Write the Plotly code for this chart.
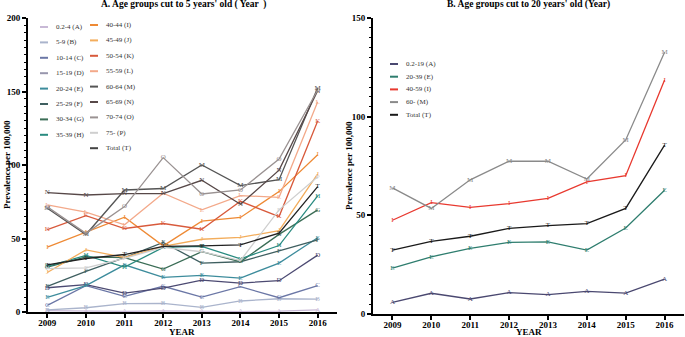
import plotly.graph_objects as go

years = [2009, 2010, 2011, 2012, 2013, 2014, 2015, 2016]

# Panel A: 5-year age groups
labels5 = ["0.2-4 (A)", "5-9 (B)", "10-14 (C)", "15-19 (D)", "20-24 (E)", "25-29 (F)",
           "30-34 (G)", "35-39 (H)", "40-44 (I)", "45-49 (J)", "50-54 (K)", "55-59 (L)",
           "60-64 (M)", "65-69 (N)", "70-74 (O)", "75- (P)", "Total (T)"]
letters5 = ["A", "B", "C", "D", "E", "F", "G", "H", "I", "J", "K", "L", "M", "N", "O", "P", "T"]
A5 = [1.0, 0.6, 0.4, 0.8, 0.5, 0.3, 0.6, 1.5]
B5 = [1.5, 2.9, 5.7, 5.9, 3.2, 7.5, 9.0, 8.8]
C5 = [4.5, 17.9, 10.6, 17.5, 10.2, 17.2, 9.7, 17.9]
D5 = [16.5, 18.6, 12.9, 16.3, 21.7, 19.7, 21.3, 38.7]
E5 = [10.0, 17.9, 32.1, 23.5, 24.9, 23.1, 33.3, 50.5]
F5 = [17.4, 27.6, 37.0, 47.3, 33.3, 34.2, 41.6, 49.1]
G5 = [30.5, 37.5, 37.0, 29.2, 41.0, 34.2, 52.8, 69.5]
H5 = [31.0, 38.5, 30.5, 43.9, 44.6, 36.2, 45.2, 79.0]
I5 = [44.1, 54.1, 64.5, 45.0, 61.8, 64.3, 81.9, 107.0]
J5 = [26.9, 42.3, 37.1, 44.6, 49.5, 50.7, 55.4, 94.0]
K5 = [56.1, 65.6, 56.8, 60.2, 56.3, 75.3, 64.9, 130.0]
L5 = [72.9, 67.9, 59.3, 80.8, 69.5, 79.2, 78.0, 143.0]
M5 = [70.6, 52.7, 83.0, 84.0, 100.0, 86.0, 90.0, 152.5]
N5 = [81.2, 79.6, 80.5, 80.5, 89.6, 73.3, 96.5, 150.5]
O5 = [71.5, 53.5, 71.7, 105.0, 80.3, 83.0, 104.0, 151.0]
P5 = [29.5, 30.0, 36.5, 44.0, 41.0, 35.0, 69.5, 92.0]
T5 = [32.1, 36.4, 39.1, 44.6, 45.0, 45.7, 53.6, 85.3]
series5 = [A5, B5, C5, D5, E5, F5, G5, H5, I5, J5, K5, L5, M5, N5, O5, P5, T5]
colors5 = ["#c8b9d6", "#aab4cc", "#6b77a6", "#4c4a72", "#3d8c9c", "#3f5f60",
           "#3b6d56", "#2a8b80", "#ee8a35", "#f3ad5c", "#d85a3c", "#f3a98a",
           "#555555", "#574848", "#9a9292", "#cfcfcf", "#222222"]
legcolors5 = ["#c8b9d6", "#aab4cc", "#6b77a6", "#9896ad", "#3d8c9c", "#3f5f60",
              "#3b6d56", "#2a8b80", "#ee8a35", "#f3ad5c", "#d85a3c", "#f3a98a",
              "#555555", "#574848", "#9a9292", "#cfcfcf", "#444444"]

# Panel B: 20-year age groups
labels20 = ["0.2-19 (A)", "20-39 (E)", "40-59 (I)", "60- (M)", "Total (T)"]
letters20 = ["A", "E", "I", "M", "T"]
A20 = [5.9, 10.5, 7.6, 10.8, 9.8, 11.5, 10.6, 17.7]
E20 = [23.3, 29.0, 33.3, 36.3, 36.5, 32.4, 43.6, 62.7]
I20 = [47.5, 56.4, 54.0, 55.9, 58.6, 67.0, 70.1, 118.6]
M20 = [63.9, 53.5, 68.0, 77.4, 77.4, 68.4, 88.2, 132.6]
T20 = [32.4, 36.8, 39.4, 43.4, 44.8, 45.8, 53.5, 85.6]
series20 = [A20, E20, I20, M20, T20]
colors20 = ["#4a4870", "#2e7d6e", "#e8392f", "#8a8a8a", "#1a1a1a"]

FONT = "Liberation Serif"
W, H = 685, 337
def px(v): return v / W
def py(v): return 1 - v / H

fig = go.Figure()

for lab, let, ys, col in zip(labels5, letters5, series5, colors5):
    fig.add_trace(go.Scatter(x=years, y=ys, mode="lines", name=lab,
                             line=dict(color=col, width=1.3), showlegend=False,
                             xaxis="x", yaxis="y"))
    fig.add_trace(go.Scatter(x=years, y=ys, mode="text", text=[let] * len(years),
                             textfont=dict(color=col, size=7, family=FONT),
                             textposition="middle center", showlegend=False,
                             hoverinfo="skip", xaxis="x", yaxis="y"))

for lab, let, ys, col in zip(labels20, letters20, series20, colors20):
    fig.add_trace(go.Scatter(x=years, y=ys, mode="lines", name=lab,
                             line=dict(color=col, width=1.3), showlegend=False,
                             xaxis="x2", yaxis="y2"))
    fig.add_trace(go.Scatter(x=years, y=ys, mode="text", text=[let] * len(years),
                             textfont=dict(color=col, size=7, family=FONT),
                             textposition="middle center", showlegend=False,
                             hoverinfo="skip", xaxis="x2", yaxis="y2"))

axis_common = dict(showline=True, linecolor="black", linewidth=2, ticks="outside",
                   ticklen=4, tickwidth=1.5, tickcolor="black", showgrid=False,
                   zeroline=False, automargin=False,
                   tickfont=dict(family=FONT, size=9, color="black", weight="bold"))

xcommon = dict(axis_common, range=[2008.5, 2016.5], tickvals=years,
               ticktext=[str(y) for y in years], ticklabelstandoff=-3)
fig.update_layout(
    width=W, height=H, margin=dict(l=0, r=0, t=0, b=0, autoexpand=False),
    plot_bgcolor="white", paper_bgcolor="white",
    font=dict(family=FONT, color="black"),
    showlegend=False,
    xaxis=dict(xcommon, domain=[px(28), px(337)], anchor="y"),
    yaxis=dict(axis_common, domain=[py(312), py(18)], range=[0, 200], dtick=50,
               anchor="x", minor=dict(ticks="outside", dtick=5, ticklen=2,
                                      tickcolor="black", tickwidth=1)),
    xaxis2=dict(xcommon, domain=[px(373), px(684)], anchor="y2"),
    yaxis2=dict(axis_common, domain=[py(314), py(18)], range=[0, 150], dtick=50,
                anchor="x2", minor=dict(ticks="outside", dtick=5, ticklen=2,
                                        tickcolor="black", tickwidth=1)),
)

# Manual legends (line sample + text)
leg_font = dict(family=FONT, size=7, color="#333333")
def legend_item(x0, y, col, text):
    fig.add_shape(type="line", xref="paper", yref="paper", x0=px(x0), x1=px(x0 + 8),
                  y0=py(y), y1=py(y), line=dict(color=col, width=2))
    fig.add_annotation(text=text, x=px(x0 + 14), y=py(y), xref="paper", yref="paper",
                       showarrow=False, font=leg_font, xanchor="left", yanchor="middle")

for i in range(len(labels5)):
    if i < 8:
        legend_item(40, 27 + i * 15.4, legcolors5[i], labels5[i])
    else:
        legend_item(90, 25 + (i - 8) * 15.4, legcolors5[i], labels5[i])
for i in range(len(labels20)):
    legend_item(390, 64 + i * 12.7, colors20[i], labels20[i])

ann_font = dict(family=FONT, size=9.5, color="black", weight="bold")
fig.add_annotation(text="A. Age groups cut to 5 years' old ( Year  )", x=px(184), y=py(5),
                   xref="paper", yref="paper", showarrow=False, font=ann_font,
                   xanchor="center", yanchor="middle")
fig.add_annotation(text="B. Age groups cut to 20 years' old (Year)", x=px(528), y=py(5),
                   xref="paper", yref="paper", showarrow=False, font=ann_font,
                   xanchor="center", yanchor="middle")
fig.add_annotation(text="YEAR", x=px(182), y=py(332), xref="paper", yref="paper",
                   showarrow=False, font=dict(ann_font, size=9), xanchor="center",
                   yanchor="middle")
fig.add_annotation(text="YEAR", x=px(529), y=py(332), xref="paper", yref="paper",
                   showarrow=False, font=dict(ann_font, size=9), xanchor="center",
                   yanchor="middle")
fig.add_annotation(text="Prevalence per 100,000", x=px(7), y=py(165), xref="paper",
                   yref="paper", showarrow=False, font=dict(ann_font, size=9),
                   textangle=-90, xanchor="center", yanchor="middle")
fig.add_annotation(text="Prevalence per 100,000", x=px(349), y=py(166), xref="paper",
                   yref="paper", showarrow=False, font=dict(ann_font, size=9),
                   textangle=-90, xanchor="center", yanchor="middle")

# remove the default 8px page margin so the figure fills the window exactly
fig.write_html("out.html", config={"displayModeBar": False},
               post_script="document.body.style.margin='0';document.body.style.overflow='hidden';")
